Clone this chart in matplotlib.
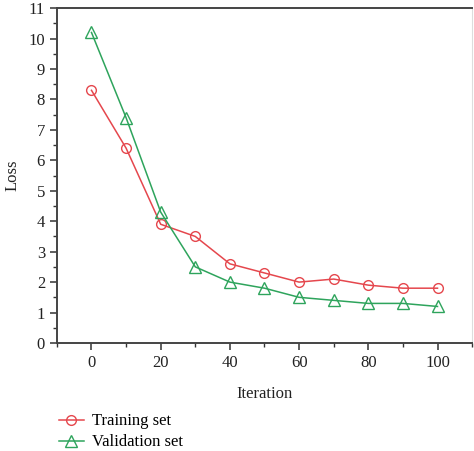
import matplotlib
matplotlib.use("Agg")
import matplotlib.pyplot as plt
from matplotlib.ticker import MultipleLocator

iterations = [0, 10, 20, 30, 40, 50, 60, 70, 80, 90, 100]
training = [8.3, 6.4, 3.9, 3.5, 2.6, 2.3, 2.0, 2.1, 1.9, 1.8, 1.8]
validation = [10.2, 7.4, 4.3, 2.5, 2.0, 1.8, 1.5, 1.4, 1.3, 1.3, 1.2]
xticks = [0, 20, 40, 60, 80, 100]
yticks = list(range(0, 12))

plt.rcParams['font.family'] = ['Liberation Serif', 'DejaVu Serif']

fig = plt.figure(figsize=(4.74, 4.51), dpi=100)
ax = fig.add_axes([0.120, 0.2395, 0.876, 0.7425])

red = '#e5474d'
green = '#2ea45c'
l1, = ax.plot(iterations, training, color=red, lw=1.1, marker='o', ms=7,
              mfc='none', mec=red, mew=1.0, label='Training set')
l2, = ax.plot(iterations, validation, color=green, lw=1.1, marker='^', ms=8,
              mfc='none', mec=green, mew=1.0, label='Validation set')

ax.set_xlim(-10, 110)
ax.set_ylim(0, 11)
ax.set_xticks(xticks)
ax.set_yticks(yticks)
ax.xaxis.set_minor_locator(MultipleLocator(10))
ax.yaxis.set_minor_locator(MultipleLocator(0.5))
ax.tick_params(which='major', direction='out', length=5, width=1.1, labelsize=12, colors='#333333')
ax.tick_params(which='minor', direction='out', length=3, width=1.0, colors='#333333')
ax.tick_params(axis='both', labelcolor='#222222')
for s in ['left', 'bottom', 'top']:
    ax.spines[s].set_linewidth(1.4)
    ax.spines[s].set_color('#444444')
ax.spines['right'].set_color('#dddddd')
ax.spines['right'].set_linewidth(0.8)

ax.set_xlabel('Iteration', fontsize=12, labelpad=11, color='#222222')
ax.set_ylabel('Loss', fontsize=12, labelpad=6, color='#222222')

fig.legend(handles=[l1, l2], loc='upper left', bbox_to_anchor=(0.11, 0.098),
           frameon=False, fontsize=12, handlelength=1.5, handletextpad=0.5,
           labelspacing=0.3, borderaxespad=0)

fig.savefig('out.png', dpi=100)
